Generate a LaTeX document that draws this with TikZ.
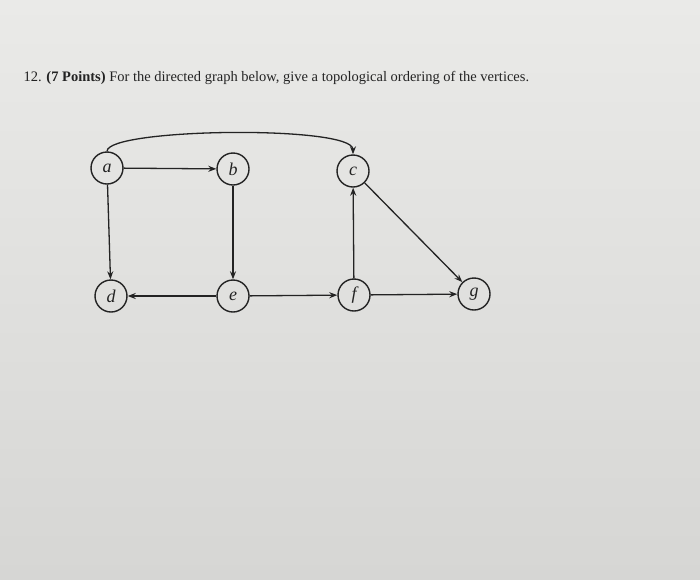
\documentclass[tikz,border=0pt]{standalone}
\usepackage{fontspec}
\setmainfont{Liberation Serif}
\usetikzlibrary{arrows.meta}
\definecolor{papertop}{RGB}{234,234,232}
\definecolor{paperbot}{RGB}{214,214,212}
\definecolor{ink}{RGB}{35,35,35}
\begin{document}
\begin{tikzpicture}[x=1pt,y=-1pt,
  vtx/.style={circle,draw=ink,line width=1.4pt,minimum size=32pt,inner sep=0pt,font=\fontsize{18}{18}\selectfont\itshape,text=ink},
  edge/.style={draw=ink,line width=1.3pt,-{Stealth[length=8pt,width=6pt]}}]
\shade[top color=papertop,bottom color=paperbot] (0,0) rectangle (700,579);
\useasboundingbox (0,0) rectangle (700,579);
\node[anchor=west,font=\fontsize{14.5}{16}\selectfont,text=ink] (title) at (20,78) {12. \textbf{(7 Points)} For the directed graph below, give a topological ordering of the vertices.};
\node[vtx] (a) at (107,168) {a};
\node[vtx] (b) at (233,169) {b};
\node[vtx] (c) at (353,171) {c};
\node[vtx] (d) at (111,296) {d};
\node[vtx] (e) at (233,296) {e};
\node[vtx] (f) at (354,295) {f};
\node[vtx] (g) at (474,294) {g};
\draw[edge] (a.north) .. controls (107,128) and (353,125) .. (c.north);
\draw[edge] (a) -- (b);
\draw[edge] (a) -- (d);
\draw[edge] (b) -- (e);
\draw[edge] (e) -- (d);
\draw[edge] (e) -- (f);
\draw[edge] (f) -- (c);
\draw[edge] (f) -- (g);
\draw[edge] (c) -- (g);
\end{tikzpicture}
\end{document}
